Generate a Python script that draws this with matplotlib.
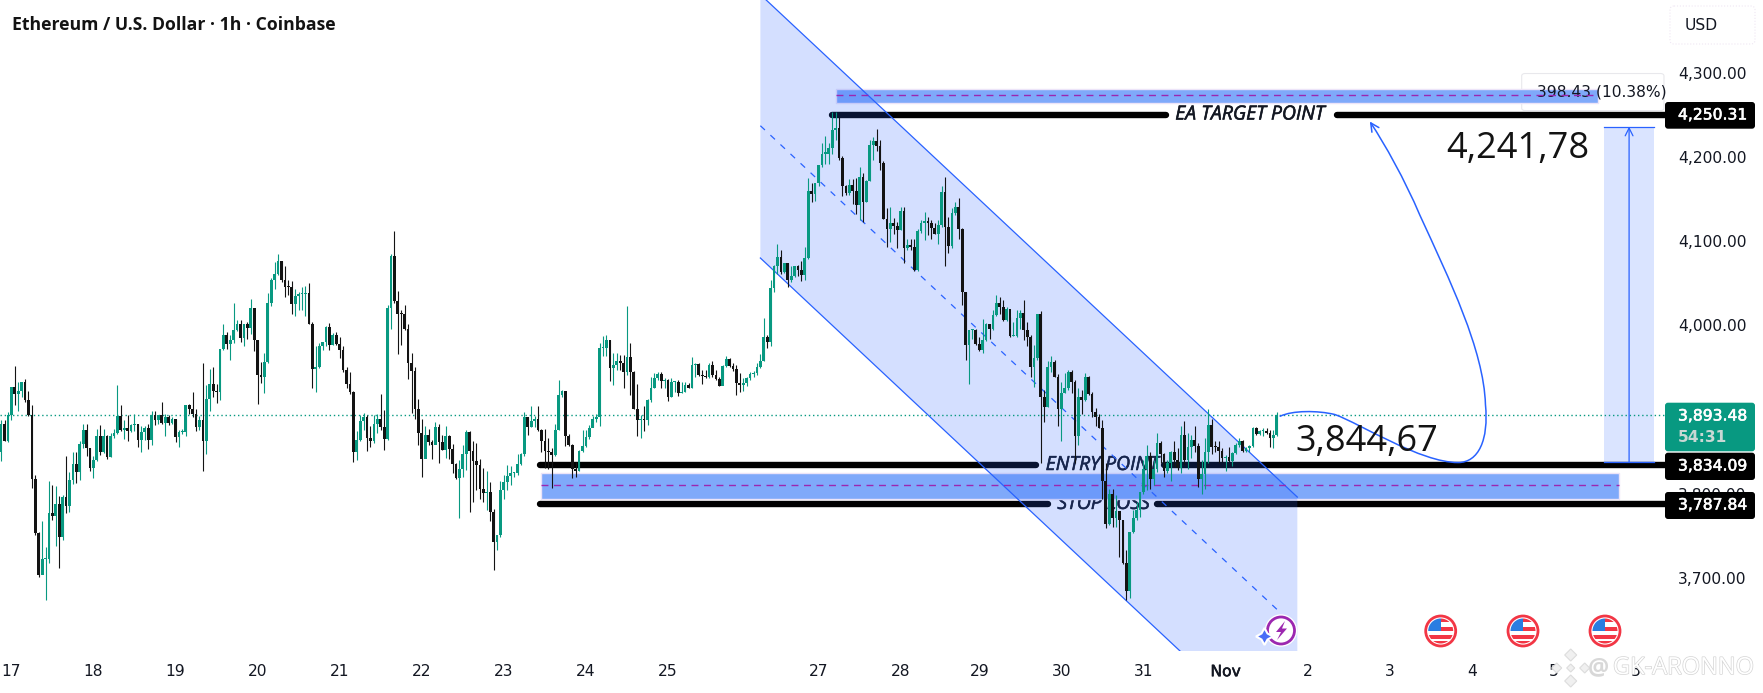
import numpy as np
import matplotlib
matplotlib.use("Agg")
import matplotlib.pyplot as plt
import matplotlib.patheffects as pe
from matplotlib.patches import Circle, FancyArrowPatch, FancyBboxPatch, Polygon, Rectangle
from matplotlib.path import Path
from matplotlib.transforms import Affine2D

# hourly closes
closes = [
    3883, 3863, 3893, 3927, 3918, 3922, 3933, 3911, 3893, 3817,
    3753, 3704, 3722, 3723, 3777, 3773, 3788, 3748, 3796, 3785,
    3816, 3835, 3826, 3859, 3876, 3854, 3830, 3840, 3868, 3849,
    3869, 3843, 3868, 3872, 3892, 3876, 3878, 3875, 3882, 3883,
    3864, 3873, 3878, 3864, 3893, 3887, 3893, 3884, 3891, 3884,
    3889, 3867, 3873, 3873, 3905, 3900, 3895, 3879, 3887, 3862,
    3912, 3930, 3922, 3921, 3972, 3989, 3978, 3982, 3994, 4002,
    3985, 4001, 3997, 4020, 3982, 3941, 3938, 3956, 4027, 4054,
    4061, 4076, 4054, 4046, 4045, 4025, 4035, 4037, 4037, 4038,
    4002, 3948, 3950, 3975, 3980, 3998, 3976, 3988, 3978, 3971,
    3947, 3930, 3921, 3850, 3864, 3886, 3891, 3866, 3862, 3883,
    3889, 3879, 3865, 4021, 4082, 4029, 4014, 4013, 3996, 3955,
    3946, 3900, 3872, 3841, 3870, 3861, 3858, 3879, 3861, 3852,
    3868, 3853, 3835, 3819, 3829, 3847, 3873, 3851, 3839, 3834,
    3805, 3801, 3802, 3778, 3743, 3751, 3804, 3814, 3821, 3824,
    3825, 3835, 3847, 3891, 3879, 3886, 3889, 3876, 3862, 3851,
    3850, 3846, 3876, 3917, 3922, 3869, 3858, 3829, 3827, 3851,
    3857, 3867, 3878, 3889, 3891,
    3973, 3973, 3983, 3949, 3953, 3958, 3955, 3945, 3962, 3944,
    3901, 3888, 3888, 3887, 3911, 3925, 3937, 3942, 3934, 3935,
    3915, 3933, 3933, 3919, 3921, 3929, 3925, 3953, 3954, 3941,
    3940, 3938, 3953, 3941, 3936, 3928, 3952, 3960, 3952, 3948,
    3932, 3929, 3931, 3937, 3942, 3943, 3950, 3958, 3986, 3980,
    4044, 4070, 4081, 4063, 4074, 4054, 4058, 4070, 4066, 4060,
    4080, 4159, 4156, 4169, 4190, 4204, 4204, 4211, 4232, 4234,
    4199, 4165, 4157, 4167, 4160, 4143, 4176, 4147, 4171, 4214,
    4219, 4213, 4193, 4126, 4114, 4121, 4118, 4113, 4136, 4092,
    4095, 4093, 4066, 4112, 4122, 4123, 4122, 4115, 4109, 4119,
    4158, 4117, 4094, 4133, 4140, 4114, 4039, 3977, 3994, 3994,
    3978, 3971, 3983, 4002, 3995, 4012, 4026, 4022, 4006, 4019,
    3987, 3987, 4009, 4015, 3994, 3986, 3950, 3961, 4013, 3915,
    3903, 3951, 3956, 3939, 3901, 3920, 3926, 3945, 3933, 3869,
    3915, 3911, 3939, 3918, 3897, 3891, 3878, 3815, 3764, 3800,
    3771, 3779, 3769, 3718, 3685, 3755, 3771, 3781, 3802, 3829,
    3845, 3817, 3829, 3860, 3847, 3827, 3837, 3850, 3840, 3830,
    3870, 3840, 3855, 3864, 3857, 3817, 3823, 3849, 3882, 3856,
    3855, 3851, 3842, 3843, 3839, 3848, 3858, 3863, 3851, 3854,
    3857, 3878, 3871, 3874, 3875, 3872, 3866, 3870, 3893,
]
highs = [
    3887, 3888, 3897, 3927, 3952, 3933, 3933, 3936, 3922, 3905,
    3822, 3754, 3767, 3737, 3815, 3810, 3809, 3797, 3798, 3845,
    3826, 3849, 3849, 3862, 3883, 3883, 3854, 3845, 3877, 3881,
    3877, 3870, 3872, 3877, 3929, 3905, 3887, 3893, 3883, 3895,
    3883, 3880, 3880, 3883, 3898, 3898, 3894, 3909, 3895, 3893,
    3891, 3889, 3876, 3877, 3905, 3907, 3921, 3900, 3892, 3955,
    3929, 3948, 3950, 3930, 3972, 4001, 3992, 3988, 4027, 4006,
    4006, 4001, 4004, 4031, 4020, 3982, 3956, 3967, 4038, 4056,
    4075, 4085, 4076, 4070, 4054, 4053, 4043, 4039, 4045, 4047,
    4050, 4004, 3975, 3979, 3980, 3999, 4003, 3991, 3992, 3986,
    3975, 3950, 3944, 3922, 3874, 3893, 3896, 3893, 3880, 3893,
    3895, 3918, 3899, 4024, 4085, 4112, 4041, 4018, 4024, 4001,
    3967, 3950, 3912, 3889, 3880, 3877, 3864, 3885, 3883, 3870,
    3880, 3870, 3859, 3837, 3840, 3858, 3876, 3875, 3863, 3860,
    3841, 3830, 3827, 3814, 3782, 3751, 3815, 3822, 3834, 3833,
    3826, 3847, 3848, 3897, 3891, 3904, 3892, 3904, 3877, 3877,
    3866, 3854, 3883, 3935, 3923, 3922, 3871, 3859, 3838, 3852,
    3876, 3876, 3881, 3892, 3895,
    3979, 3987, 3988, 3983, 3967, 3967, 3965, 3965, 4023, 3979,
    3946, 3930, 3893, 3904, 3912, 3939, 3943, 3945, 3944, 3937,
    3936, 3937, 3934, 3935, 3933, 3933, 3931, 3962, 3955, 3955,
    3947, 3947, 3955, 3957, 3947, 3939, 3953, 3963, 3961, 3955,
    3953, 3943, 3937, 3939, 3945, 3946, 3955, 3966, 4009, 3989,
    4054, 4072, 4097, 4090, 4074, 4074, 4070, 4070, 4072, 4076,
    4093, 4175, 4169, 4169, 4190, 4216, 4225, 4216, 4253, 4253,
    4247, 4201, 4167, 4174, 4174, 4175, 4188, 4181, 4173, 4220,
    4224, 4233, 4220, 4195, 4139, 4141, 4127, 4123, 4140, 4141,
    4103, 4103, 4103, 4114, 4125, 4135, 4129, 4125, 4121, 4125,
    4166, 4176, 4129, 4139, 4147, 4151, 4115, 4040, 3994, 3996,
    3996, 3986, 4008, 4003, 4002, 4018, 4036, 4034, 4030, 4022,
    4010, 4004, 4018, 4018, 4030, 4004, 3988, 3977, 4014, 4017,
    3923, 3957, 3963, 3959, 3942, 3933, 3943, 3947, 3947, 3935,
    3925, 3923, 3943, 3940, 3921, 3902, 3895, 3887, 3836, 3806,
    3806, 3798, 3779, 3769, 3733, 3755, 3781, 3790, 3802, 3840,
    3858, 3850, 3840, 3872, 3862, 3848, 3840, 3851, 3862, 3854,
    3880, 3886, 3872, 3870, 3880, 3860, 3840, 3866, 3901, 3889,
    3862, 3862, 3854, 3846, 3856, 3850, 3860, 3866, 3864, 3856,
    3858, 3879, 3879, 3876, 3878, 3878, 3876, 3876, 3897,
]
lows = [
    3839, 3862, 3861, 3887, 3905, 3898, 3915, 3909, 3892, 3807,
    3751, 3701, 3706, 3674, 3718, 3769, 3738, 3712, 3745, 3777,
    3778, 3811, 3813, 3816, 3854, 3845, 3827, 3819, 3839, 3846,
    3848, 3841, 3843, 3866, 3871, 3874, 3865, 3863, 3873, 3874,
    3856, 3849, 3864, 3853, 3858, 3882, 3883, 3883, 3869, 3882,
    3883, 3861, 3855, 3871, 3868, 3895, 3891, 3874, 3876, 3827,
    3847, 3898, 3915, 3908, 3911, 3971, 3972, 3959, 3979, 3993,
    3980, 3975, 3984, 3990, 3970, 3906, 3931, 3920, 3955, 4023,
    4043, 4060, 4052, 4034, 4036, 4013, 4011, 4018, 4018, 4011,
    4001, 3926, 3921, 3949, 3971, 3975, 3971, 3977, 3976, 3961,
    3944, 3925, 3918, 3838, 3840, 3863, 3876, 3851, 3856, 3860,
    3872, 3876, 3852, 3864, 3996, 4026, 3966, 3976, 3994, 3936,
    3896, 3889, 3858, 3820, 3842, 3858, 3841, 3859, 3837, 3852,
    3842, 3841, 3824, 3818, 3771, 3820, 3828, 3778, 3790, 3804,
    3794, 3790, 3781, 3767, 3709, 3733, 3749, 3794, 3804, 3810,
    3820, 3822, 3834, 3845, 3870, 3879, 3879, 3874, 3849, 3830,
    3829, 3807, 3845, 3876, 3915, 3857, 3857, 3819, 3820, 3827,
    3849, 3855, 3865, 3879, 3885,
    3880, 3963, 3963, 3934, 3929, 3947, 3947, 3925, 3941, 3917,
    3901, 3869, 3866, 3874, 3882, 3909, 3925, 3935, 3925, 3925,
    3910, 3915, 3921, 3916, 3920, 3921, 3925, 3926, 3939, 3940,
    3930, 3937, 3937, 3939, 3935, 3928, 3935, 3950, 3950, 3946,
    3917, 3921, 3922, 3928, 3935, 3939, 3941, 3949, 3957, 3973,
    3975, 4040, 4061, 4061, 4062, 4045, 4052, 4057, 4059, 4053,
    4054, 4079, 4147, 4148, 4165, 4188, 4192, 4192, 4203, 4220,
    4196, 4153, 4155, 4155, 4144, 4132, 4125, 4123, 4146, 4171,
    4196, 4207, 4184, 4126, 4093, 4099, 4109, 4092, 4113, 4074,
    4089, 4090, 4065, 4065, 4110, 4101, 4107, 4102, 4108, 4097,
    4117, 4070, 4086, 4092, 4131, 4102, 4024, 3959, 3930, 3984,
    3977, 3969, 3967, 3981, 3984, 3994, 4011, 4014, 4005, 4005,
    3986, 3987, 3986, 3996, 3982, 3975, 3939, 3927, 3959, 3836,
    3885, 3903, 3945, 3938, 3880, 3862, 3919, 3923, 3919, 3836,
    3858, 3895, 3910, 3917, 3891, 3880, 3878, 3794, 3759, 3763,
    3761, 3761, 3725, 3717, 3674, 3676, 3753, 3769, 3772, 3800,
    3804, 3805, 3810, 3826, 3836, 3820, 3824, 3815, 3832, 3828,
    3824, 3834, 3829, 3842, 3850, 3808, 3800, 3806, 3836, 3847,
    3849, 3836, 3838, 3827, 3838, 3833, 3847, 3856, 3850, 3849,
    3850, 3855, 3870, 3870, 3868, 3871, 3855, 3854, 3868,
]
first_open = 3850

price_ticks = [4300, 4200, 4100, 4000, 3800, 3700]
price_labels = ["4,300.00", "4,200.00", "4,100.00", "4,000.00", "3,800.00", "3,700.00"]
date_ticks = [3, 27, 51, 75, 99, 123, 147, 171, 195, 239, 263, 286, 310, 334, 358, 382, 406, 430, 454, 478]
date_labels = ["17", "18", "19", "20", "21", "22", "23", "24", "25", "27", "28", "29",
               "30", "31", "Nov", "2", "3", "4", "5", "5"]

last_price = 3893.48
target_price = 4250.31
entry_price = 3834.09
stop_price = 3787.84

GREEN = "#089981"
DARK = "#131313"
BLUE = "#2962ff"
ZONE = "#7fa9fa"
PURPLE = "#9c27b0"
TEXT = "#131722"

plt.rcParams["font.family"] = ["DejaVu Sans"]

W, H = 1763, 693
fig = plt.figure(figsize=(W / 100, H / 100), dpi=100, facecolor="white")
ax = fig.add_axes([0, (H - 651) / H, 1665 / W, 651 / H])
ax.set_xlim(-0.32, 486.5)
ax.set_ylim(3613.2, 4386.3)
for s in ax.spines.values():
    s.set_visible(False)
ax.yaxis.tick_right()
ax.set_yticks(price_ticks, price_labels)
ax.set_xticks(date_ticks, date_labels)
ax.tick_params(axis="y", length=0, pad=9.5, labelsize=11.2, labelcolor=TEXT)
ax.tick_params(axis="x", length=0, pad=9.5, labelsize=11.2, labelcolor=TEXT)
semi = [pe.withStroke(linewidth=0.4, foreground=TEXT)]
for lab in ax.get_xticklabels():
    if lab.get_text() == "Nov":
        lab.set_path_effects(semi)

# candles
c = np.array(closes, dtype=float)
h = np.array(highs, dtype=float)
l = np.array(lows, dtype=float)
o = np.r_[first_open, c[:-1]]
x = np.arange(len(c))
cols = np.where(c >= o, GREEN, DARK)
ax.vlines(x, l, h, colors=cols, lw=0.8, zorder=5)
bottoms = np.minimum(o, c)
heights = np.maximum(np.abs(c - o), 1.3)
ax.bar(x, heights, bottom=bottoms, width=0.8, color=cols, linewidth=0, zorder=5)

ax.axhline(last_price, color=GREEN, lw=1, ls=(0, (1, 2)), zorder=4)

# support / target lines, broken around their labels
for price, segs in [(target_price, [(243, 340.5), (390.5, 487)]),
                    (entry_price, [(157.5, 302.5), (340, 487)]),
                    (stop_price, [(157.5, 306), (338, 487)])]:
    for a, b in segs:
        ax.plot([a, b], [price, price], color="black", lw=4.6, solid_capstyle="round", zorder=1)

italic = dict(family=["Open Sans", "DejaVu Sans"], style="italic", fontsize=14, color=TEXT,
              va="center", ha="center", zorder=1, path_effects=[pe.withStroke(linewidth=0.4, foreground=TEXT)])
ax.text(365.2, target_price, "EA TARGET POINT", **italic)
ax.text(322, entry_price, "ENTRY POINT", **italic)
ax.text(322.4, stop_price, "STOP LOSS", **italic)

# blue zones
for left, right, top, bottom, mid in [(244, 467, 4280.6, 4264, 4273.5),
                                      (158, 473, 3825, 3793.8, 3810)]:
    ax.add_patch(Rectangle((left, bottom), right - left, top - bottom, fc=ZONE, ec="#ece4f8", lw=1, zorder=2))
    ax.plot([left, right], [mid, mid], color=PURPLE, lw=1, ls=(0, (5, 4)), zorder=4)

# descending channel
chan = [(222, 4386.3), (223.7, 4386.3), (379, 3796), (379, 3613.2), (344.7, 3613.2), (222, 4079.9)]
ax.add_patch(Polygon(chan, closed=True, fc=BLUE, ec="none", alpha=0.2, zorder=3))
ax.plot([223.7, 379], [4386.3, 3796], color=BLUE, lw=0.9, zorder=3)
ax.plot([222, 344.7], [4079.9, 3613.2], color=BLUE, lw=0.9, zorder=3)
ax.plot([222, 373.2], [4237, 3662], color=BLUE, lw=0.9, ls=(0, (5, 6)), zorder=3)

# long position ruler
ax.add_patch(Rectangle((468.8, 3837.3), 14.5, 398.6, fc=BLUE, ec="none", alpha=0.17, zorder=3))
ax.plot([468.8, 483.3], [4235.9, 4235.9], color=BLUE, lw=0.9, zorder=3)
ax.plot([468.8, 483.3], [3837.3, 3837.3], color=BLUE, lw=0.9, zorder=3)
ax.add_patch(FancyArrowPatch((476, 3837.3), (476, 4235.9), arrowstyle="->", mutation_scale=14,
                             color=BLUE, lw=0.9, shrinkA=0, shrinkB=0, zorder=4))

# hand drawn arrow
verts = [(374, 3892), (377.5, 3899), (385, 3899), (390, 3894),
         (397.5, 3883), (415, 3837), (426, 3837),
         (432, 3837), (435, 3864), (434, 3906),
         (433.5, 3971), (423.5, 4054), (414.8, 4131),
         (410.4, 4173), (404.6, 4215), (400.2, 4242)]
codes = [Path.MOVETO] + [Path.CURVE4] * 15
ax.add_patch(FancyArrowPatch(path=Path(verts, codes), arrowstyle="->", mutation_scale=15,
                             color=BLUE, lw=1.1, zorder=6))

big = dict(family=["Open Sans", "DejaVu Sans"], fontsize=26, color=DARK, va="center", zorder=7)
ax.text(422.4, 4209, "4,241,78", **big)
ax.text(378.5, 3861, "3,844,67", **big)


# everything from here on is placed in reference pixels
pxt = Affine2D().scale(1, -1).translate(0, H)


def px_text(px, py, s, **kw):
    kw.setdefault("va", "center")
    fig.text(px / W, 1 - py / H, s, **kw)


def px_box(x0, y0, x1, y1, fc, ec="none", r=3, lw=0.8, ls="-", z=3):
    fig.add_artist(FancyBboxPatch((x0, y0), x1 - x0, y1 - y0, boxstyle=f"round,pad=0,rounding_size={r}",
                                  fc=fc, ec=ec, lw=lw, ls=ls, transform=pxt, zorder=z))


px_text(12, 25, "Ethereum / U.S. Dollar · 1h · Coinbase", fontsize=12.7, color=DARK,
        family=["Open Sans", "DejaVu Sans"], fontweight="bold")

white_semi = [pe.withStroke(linewidth=0.4, foreground="white")]

# price scale tags
px_box(1670, 6, 1755, 44, "white", ec="#efe6f3", r=4, ls=":")
px_text(1685, 25, "USD", fontsize=11.2, color=TEXT)
px_box(1665, 102, 1755, 128.7, "black")
px_text(1678, 115, "4,250.31", fontsize=11.2, color="white", path_effects=white_semi)
px_box(1665, 402.7, 1755, 451.3, GREEN)
px_text(1678, 416, "3,893.48", fontsize=11.2, color="white", path_effects=white_semi)
px_text(1678, 437, "54:31", fontsize=11.2, color="#c9d8d4", fontweight="bold")
px_box(1665, 452.7, 1755, 480, "black")
px_text(1678, 466, "3,834.09", fontsize=11.2, color="white", path_effects=white_semi)
px_box(1665, 492, 1755, 519, "black")
px_text(1678, 505, "3,787.84", fontsize=11.2, color="white", path_effects=white_semi)

# ruler label box sits below the zone, its text above it
ax.add_patch(FancyBboxPatch((444.6, 4255), 41.6, 44, boxstyle="round,pad=0,rounding_size=1",
                            mutation_aspect=3, fc="white", ec="#e6e6ea", lw=0.8, alpha=0.9, zorder=1.5,
                            clip_on=False))
ax.text(449, 4277, "398.43 (10.38%)", fontsize=11.2, color=TEXT, va="center", zorder=3.5)


def flag(cx, cy):
    ring = Circle((cx, cy), 15, fc="white", ec="#f23645", lw=2, transform=pxt, zorder=4)
    fig.add_artist(ring)
    clip = Circle((cx, cy), 12.5, transform=pxt)
    parts = [((-13, -13), 13, 13, "#2a7de1"), ((0, -13), 13, 4, "#f23645"), ((0, -4.5), 13, 4.5, "#f23645"),
             ((-13, 4), 26, 4, "#f23645"), ((-13, 10), 26, 4, "#f23645")]
    for (dx, dy), w, ht, col in parts:
        r = Rectangle((cx + dx, cy + dy), w, ht, fc=col, ec="none", transform=pxt, zorder=5)
        fig.add_artist(r)
        r.set_clip_path(clip)


for cx in [1440.7, 1523, 1605]:
    flag(cx, 631)

# lightning badge over the channel
fig.add_artist(Circle((1281, 630.5), 15.5, fc="white", ec="white", transform=pxt, zorder=4))
fig.add_artist(Circle((1281, 630.5), 13.5, fc="white", ec=PURPLE, lw=2, transform=pxt, zorder=5))
bolt = [(1285, 621), (1276, 632), (1281, 632), (1277, 640), (1287, 628.5), (1282, 628.5)]
fig.add_artist(Polygon(bolt, closed=True, fc=PURPLE, ec="none", transform=pxt, zorder=6))
star = [(1264.5, 628), (1267.5, 633.5), (1273, 636.5), (1267.5, 639.5), (1264.5, 645),
        (1261.5, 639.5), (1256, 636.5), (1261.5, 633.5)]
fig.add_artist(Polygon(star, closed=True, fc="#4a6cf7", ec="white", lw=1.5, transform=pxt, zorder=6))

# watermark
for dx, dy, r in [(0, -13, 6), (-14, 0, 5), (14, 0, 5), (0, 13, 6), (0, 0, 4)]:
    sq = [(1570.7 + dx, 668 + dy - r), (1570.7 + dx + r, 668 + dy), (1570.7 + dx, 668 + dy + r),
          (1570.7 + dx - r, 668 + dy)]
    fig.add_artist(Polygon(sq, closed=True, fc="#f0f0f0", ec="#dcdcdc", lw=0.8, transform=pxt, zorder=8))
px_text(1588, 668, "@", fontsize=17, color="#d8d8d8", zorder=8,
        family=["Open Sans", "DejaVu Sans"], fontweight="bold")
px_text(1613, 668, "GK-ARONNO", fontsize=17, color="white", zorder=8,
        family=["Open Sans", "DejaVu Sans"],
        path_effects=[pe.withStroke(linewidth=1.0, foreground="#d4d4d4")])

fig.savefig("out.png", dpi=100)
